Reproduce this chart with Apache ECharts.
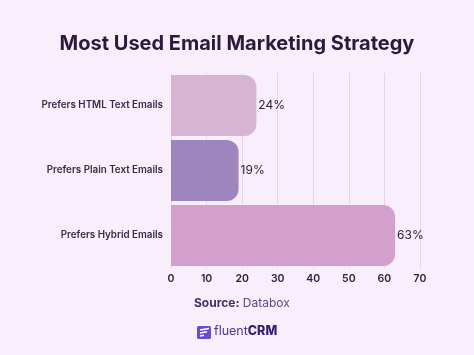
<!DOCTYPE html>
<html><head><meta charset="utf-8">
<script src="https://cdn.jsdelivr.net/npm/echarts@6/dist/echarts.min.js"></script>
<style>html,body{margin:0;padding:0;background:#f8eefc}#c{width:474px;height:355px}</style>
</head><body><div id="c"></div>
<script>
const categories = ['Prefers HTML Text Emails', 'Prefers Plain Text Emails', 'Prefers Hybrid Emails'];
const values = [24, 19, 63];
const barColors = ['#d8b4d4', '#9c86bd', '#d3a0cd'];
const xTicks = [0, 10, 20, 30, 40, 50, 60, 70];

const chart = echarts.init(document.getElementById('c'), null, {renderer: 'canvas'});
const font = 'Inter, "DejaVu Sans", sans-serif';
chart.setOption({
  backgroundColor: '#f8eefc',
  animation: false,
  title: {
    text: 'Most Used Email Marketing Strategy',
    left: 'center', top: 29,
    textStyle: {fontFamily: font, fontSize: 20, fontWeight: 700, color: '#2b1a3c'}
  },
  grid: {left: 171, right: 54, top: 73, bottom: 87},
  xAxis: {
    type: 'value', min: xTicks[0], max: xTicks[xTicks.length - 1], interval: 10,
    axisLine: {show: false}, axisTick: {show: false},
    splitLine: {lineStyle: {color: '#e3d6e8', width: 1}},
    axisLabel: {fontFamily: font, fontSize: 10.5, fontWeight: 600, color: '#2d2040', margin: 5}
  },
  yAxis: {
    type: 'category', data: categories, inverse: true,
    axisLine: {show: false}, axisTick: {show: false},
    axisLabel: {fontFamily: font, fontSize: 9.8, fontWeight: 600, color: '#3a2a4a', margin: 8}
  },
  series: [{
    type: 'bar',
    data: values.map((v, i) => ({value: v, itemStyle: {color: barColors[i]}})),
    barCategoryGap: '6%',
    itemStyle: {borderRadius: [0, 12, 12, 0]},
    label: {show: true, position: 'right', distance: 2, formatter: '{c}%',
      fontFamily: font, fontSize: 12, color: '#2a2438'}
  }],
  graphic: [
    {type: 'text', left: 194, top: 297, style: {
      text: '{b|Source:} {n|Databox}',
      rich: {
        b: {fontFamily: font, fontSize: 12, fontWeight: 700, fill: '#3e2d6b'},
        n: {fontFamily: font, fontSize: 12, fontWeight: 400, fill: '#5a4a80'}
      }}},
    {type: 'rect', shape: {x: 197, y: 326, width: 14, height: 13, r: 1.5}, style: {fill: '#6c4bd0'}},
    {type: 'line', shape: {x1: 200, y1: 330, x2: 209, y2: 328.5}, style: {stroke: '#fff', lineWidth: 1.6}},
    {type: 'line', shape: {x1: 200, y1: 333, x2: 207, y2: 331.8}, style: {stroke: '#fff', lineWidth: 1.6}},
    {type: 'line', shape: {x1: 200, y1: 336, x2: 204, y2: 335.3}, style: {stroke: '#fff', lineWidth: 1.6}},
    {type: 'text', left: 214, top: 325, style: {
      text: '{n|fluent}{b|CRM}',
      rich: {
        n: {fontFamily: font, fontSize: 12.5, fontWeight: 400, fill: '#4a3a8a'},
        b: {fontFamily: font, fontSize: 12.5, fontWeight: 800, fill: '#2f2070'}
      }}}
  ]
});
</script></body></html>
